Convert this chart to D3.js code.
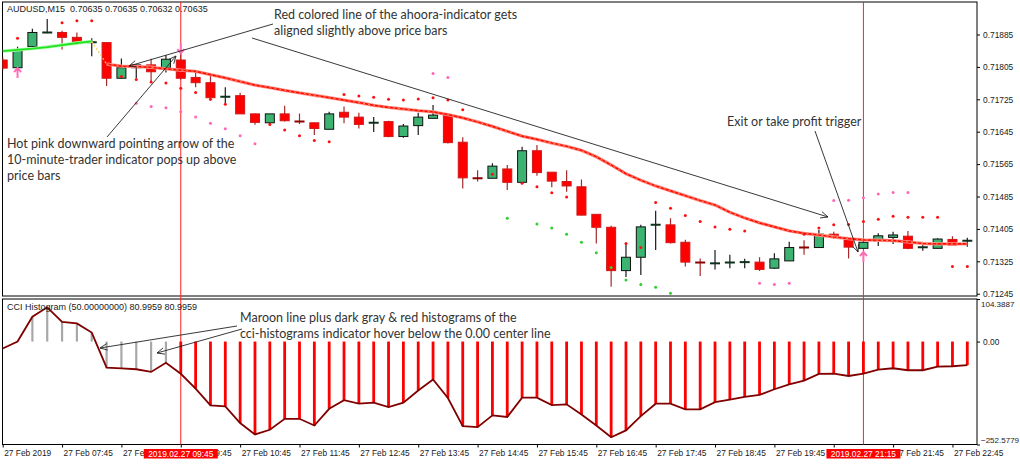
<!DOCTYPE html>
<html>
<head>
<meta charset="utf-8">
<script src="https://cdn.jsdelivr.net/npm/d3@7"></script>
<style>
  body { margin: 0; background: #fff; }
  svg { display: block; }
  .axis text { font-family: "Liberation Sans", Arial, sans-serif; font-size: 8.4px; fill: #1a1a1a; }
  .note { font-family: Lato, "Open Sans", sans-serif; font-size: 12.5px; fill: #333; }
</style>
</head>
<body>
<svg id="chart" width="1020" height="464"></svg>
<script>
// AUDUSD M15, 27 Feb 2019 06:45 .. 23:00 (one entry per bar)
const opens = [0.71822, 0.71803, 0.71855, 0.71889, 0.71890, 0.71878, 0.71866, 0.71865, 0.71777, 0.71803,
  0.71810, 0.71803, 0.71822, 0.71779, 0.71766, 0.71731, 0.71734, 0.71689, 0.71667, 0.71689,
  0.71671, 0.71667, 0.71651, 0.71693, 0.71681, 0.71667, 0.71670, 0.71633, 0.71660, 0.71678,
  0.71686, 0.71619, 0.71531, 0.71530, 0.71553, 0.71520, 0.71598, 0.71545, 0.71522, 0.71509,
  0.71441, 0.71409, 0.71302, 0.71335, 0.71414, 0.71415, 0.71372, 0.71323, 0.71320, 0.71322,
  0.71323, 0.71323, 0.71308, 0.71326, 0.71360, 0.71359, 0.71392, 0.71382, 0.71357, 0.71375,
  0.71384, 0.71387, 0.71360, 0.71357, 0.71379, 0.71376];
const highs = [0.71829, 0.71855, 0.71899, 0.71923, 0.71894, 0.71890, 0.71876, 0.71866, 0.71826, 0.71811,
  0.71825, 0.71834, 0.71847, 0.71791, 0.71783, 0.71755, 0.71741, 0.71690, 0.71689, 0.71709,
  0.71690, 0.71667, 0.71694, 0.71707, 0.71692, 0.71681, 0.71672, 0.71664, 0.71692, 0.71711,
  0.71686, 0.71631, 0.71550, 0.71567, 0.71563, 0.71608, 0.71612, 0.71545, 0.71550, 0.71527,
  0.71441, 0.71413, 0.71368, 0.71415, 0.71450, 0.71431, 0.71378, 0.71332, 0.71353, 0.71341,
  0.71331, 0.71335, 0.71345, 0.71373, 0.71377, 0.71402, 0.71398, 0.71382, 0.71377, 0.71394,
  0.71398, 0.71400, 0.71365, 0.71382, 0.71387, 0.71383];
const lows = [0.71797, 0.71801, 0.71853, 0.71888, 0.71848, 0.71859, 0.71831, 0.71758, 0.71776, 0.71777,
  0.71768, 0.71791, 0.71773, 0.71755, 0.71722, 0.71715, 0.71689, 0.71662, 0.71663, 0.71670,
  0.71664, 0.71637, 0.71651, 0.71666, 0.71653, 0.71644, 0.71631, 0.71630, 0.71637, 0.71678,
  0.71616, 0.71505, 0.71522, 0.71530, 0.71501, 0.71520, 0.71536, 0.71508, 0.71497, 0.71439,
  0.71369, 0.71262, 0.71286, 0.71291, 0.71353, 0.71369, 0.71312, 0.71289, 0.71305, 0.71308,
  0.71308, 0.71301, 0.71306, 0.71326, 0.71341, 0.71359, 0.71380, 0.71332, 0.71357, 0.71363,
  0.71368, 0.71355, 0.71351, 0.71357, 0.71365, 0.71361];
const closes = [0.71802, 0.71847, 0.71890, 0.71890, 0.71878, 0.71867, 0.71866, 0.71777, 0.71803, 0.71810,
  0.71793, 0.71824, 0.71777, 0.71766, 0.71729, 0.71731, 0.71689, 0.71668, 0.71689, 0.71672,
  0.71670, 0.71653, 0.71689, 0.71681, 0.71663, 0.71667, 0.71633, 0.71659, 0.71681, 0.71686,
  0.71618, 0.71531, 0.71530, 0.71560, 0.71520, 0.71598, 0.71544, 0.71523, 0.71511, 0.71439,
  0.71409, 0.71302, 0.71335, 0.71410, 0.71415, 0.71371, 0.71323, 0.71322, 0.71320, 0.71322,
  0.71323, 0.71305, 0.71331, 0.71359, 0.71359, 0.71392, 0.71384, 0.71360, 0.71372, 0.71388,
  0.71390, 0.71357, 0.71360, 0.71380, 0.71365, 0.71376];

// ahoora line: green while rising, red while falling
const maGreen = [0.71844, 0.71847, 0.71850, 0.71854, 0.71859, 0.71864, 0.71868];
const maRed = [null, null, null, null, null, null, null, 0.71812, 0.71807, 0.71806,
  0.71804, 0.71800, 0.71797, 0.71794, 0.71786, 0.71778, 0.71769, 0.71760, 0.71754, 0.71747,
  0.71741, 0.71735, 0.71729, 0.71723, 0.71717, 0.71710, 0.71705, 0.71701, 0.71697, 0.71694,
  0.71687, 0.71679, 0.71669, 0.71658, 0.71646, 0.71634, 0.71626, 0.71617, 0.71609, 0.71599,
  0.71583, 0.71563, 0.71541, 0.71525, 0.71511, 0.71499, 0.71487, 0.71475, 0.71464, 0.71446,
  0.71432, 0.71420, 0.71410, 0.71400, 0.71394, 0.71390, 0.71385, 0.71381, 0.71378, 0.71377,
  0.71376, 0.71373, 0.71369, 0.71368, 0.71368, 0.71368];

// dot indicators as [bar, price]
const redDots = [[1, 0.71876], [4, 0.71914], [5, 0.71919], [6, 0.71919], [8, 0.71781], [9, 0.71774],
  [10, 0.71768], [11, 0.71765], [12, 0.71752], [13, 0.71742], [14, 0.71725], [15, 0.71713],
  [18, 0.71663], [19, 0.71649], [20, 0.71635], [21, 0.71623], [22, 0.71620], [23, 0.71737],
  [24, 0.71733], [25, 0.71730], [26, 0.71725], [27, 0.71723], [28, 0.71726], [29, 0.71729],
  [30, 0.71723], [31, 0.71699], [33, 0.71540], [35, 0.71518], [36, 0.71509], [37, 0.71494],
  [38, 0.71484], [40, 0.71410], [42, 0.71369], [43, 0.71359], [44, 0.71470], [45, 0.71456],
  [46, 0.71438], [47, 0.71423], [48, 0.71410], [49, 0.71404], [50, 0.71400], [54, 0.71392],
  [55, 0.71407], [56, 0.71415], [57, 0.71416], [58, 0.71423], [59, 0.71429], [60, 0.71436],
  [61, 0.71434], [62, 0.71434], [63, 0.71434], [64, 0.71312], [65, 0.71312]];
const pinkDots = [[9, 0.71715], [10, 0.71707], [11, 0.71704], [12, 0.71694], [13, 0.71681],
  [14, 0.71666], [15, 0.71652], [16, 0.71635], [17, 0.71615], [29, 0.71789], [30, 0.71779],
  [51, 0.71271], [52, 0.71268], [53, 0.71271], [56, 0.71475], [57, 0.71476], [58, 0.71482],
  [59, 0.71491], [60, 0.71495], [61, 0.71495]];
const greenDots = [[34, 0.71431], [36, 0.71417], [37, 0.71407], [38, 0.71392], [39, 0.71372],
  [40, 0.71346], [41, 0.71310], [42, 0.71279], [43, 0.71268], [44, 0.71261], [45, 0.71246]];

// 10-minute-trader arrows as [bar, price of the tip]
const arrowsUp = [[1, 0.71802], [58, 0.71348]];
const arrowsDown = [[12, 0.71839]];

// CCI(50)
const cciValues = [-17, 0, 61, 84, 48.5, 44.5, 22, -64, -66, -68,
  -74.5, -52, -79, -115.6, -156.7, -159, -200, -228, -216.5, -189.5,
  -189.5, -206, -165, -144, -152.5, -150, -161, -150, -120, -93,
  -138.6, -207.6, -210, -181, -185, -137.7, -137.7, -156, -154, -179,
  -206, -234.7, -218, -183, -152.5, -152.5, -166.5, -166.5, -148.5, -142.6,
  -136, -131, -117, -105, -96, -79.5, -78.6, -84.5, -78.6, -68.7,
  -65.5, -70.4, -70.4, -61.3, -60.6, -58];
const cciHistColor = d3.range(66).map((i) => (i < 2 ? null : i < 12 ? 'gray' : 'red'));
const cciMax = 104.3887;
const cciMin = -252.5779;

const priceTicks = [0.71245, 0.71325, 0.71405, 0.71485, 0.71565, 0.71645, 0.71725, 0.71805, 0.71885];
const xTickIndex = [0, 4, 8, 12, 16, 20, 24, 28, 32, 36, 40, 44, 48, 52, 56, 60, 64];
const xTickLabels = ['27 Feb 2019', '27 Feb 07:45', '27 Feb 08:45', '27 Feb 09:45', '27 Feb 10:45',
  '27 Feb 11:45', '27 Feb 12:45', '27 Feb 13:45', '27 Feb 14:45', '27 Feb 15:45', '27 Feb 16:45',
  '27 Feb 17:45', '27 Feb 18:45', '27 Feb 19:45', '27 Feb 20:45', '27 Feb 21:45', '27 Feb 22:45'];
const markerIndex = [12, 58];
const markerLabels = ['2019.02.27 09:45', '2019.02.27 21:15'];

const svg = d3.select('#chart');
const plotLeft = 2.5, plotRight = 977, plotTop = 2, mainBottom = 296, subTop = 299, subBottom = 444.5;

const x = d3.scaleLinear().domain([0, 65]).range([2.7, 967.3]);
const y = d3.scaleLinear().domain([0.71245, 0.71885]).range([293.7, 34.5]);
const yc = d3.scaleLinear().domain([cciMin, cciMax]).range([subBottom, subTop]);

svg.append('defs').append('clipPath').attr('id', 'mainClip')
  .append('rect').attr('x', plotLeft).attr('y', plotTop)
  .attr('width', plotRight - plotLeft).attr('height', mainBottom - plotTop);

// frames
svg.append('rect').attr('x', plotLeft).attr('y', plotTop)
  .attr('width', plotRight - plotLeft).attr('height', mainBottom - plotTop)
  .attr('fill', 'none').attr('stroke', '#000');
svg.append('rect').attr('x', plotLeft).attr('y', subTop)
  .attr('width', plotRight - plotLeft).attr('height', subBottom - subTop)
  .attr('fill', 'none').attr('stroke', '#000');

// vertical event lines
svg.selectAll('line.marker')
  .data(markerIndex)
  .enter()
  .append('line')
  .attr('class', 'marker')
  .attr('x1', (d) => x(d)).attr('x2', (d) => x(d))
  .attr('y1', plotTop).attr('y2', subBottom)
  .attr('stroke', '#ff2020').attr('stroke-width', 1);

const main = svg.append('g').attr('clip-path', 'url(#mainClip)');
const bars = d3.range(opens.length);
const isDoji = (i) => Math.abs(opens[i] - closes[i]) < 0.000015;
const isUp = (i) => closes[i] >= opens[i];

// wicks
main.selectAll('line.wick')
  .data(bars)
  .enter()
  .append('line')
  .attr('class', 'wick')
  .attr('x1', (i) => x(i)).attr('x2', (i) => x(i))
  .attr('y1', (i) => y(highs[i])).attr('y2', (i) => y(lows[i]))
  .attr('stroke', (i) => (isUp(i) ? '#1a1a1a' : '#a52a2a'))
  .attr('stroke-width', 1.2);

// bodies
main.selectAll('rect.body')
  .data(bars.filter((i) => !isDoji(i)))
  .enter()
  .append('rect')
  .attr('class', 'body')
  .attr('x', (i) => x(i) - 4.5)
  .attr('y', (i) => y(Math.max(opens[i], closes[i])))
  .attr('width', 9)
  .attr('height', (i) => Math.max(1.5, y(Math.min(opens[i], closes[i])) - y(Math.max(opens[i], closes[i]))))
  .attr('fill', (i) => (isUp(i) ? '#3cb371' : '#ff0000'))
  .attr('stroke', (i) => (isUp(i) ? '#111' : '#d01818'))
  .attr('stroke-width', 1);

// doji crosses
main.selectAll('line.doji')
  .data(bars.filter(isDoji))
  .enter()
  .append('line')
  .attr('class', 'doji')
  .attr('x1', (i) => x(i) - 5).attr('x2', (i) => x(i) + 5)
  .attr('y1', (i) => y(closes[i])).attr('y2', (i) => y(closes[i]))
  .attr('stroke', (i) => (isUp(i) ? '#10301f' : '#8b0000'))
  .attr('stroke-width', 2);

// ahoora line
const maLine = (arr) => d3.line()
  .defined((d) => d != null)
  .x((d, i) => x(i))
  .y((d) => y(d))(arr);

main.append('path').attr('d', maLine(maGreen))
  .attr('fill', 'none').attr('stroke', '#a8ffa8').attr('stroke-width', 3.4);
main.append('path').attr('d', maLine(maGreen))
  .attr('fill', 'none').attr('stroke', '#22e022').attr('stroke-width', 1.8);
main.append('line')
  .attr('x1', x(6)).attr('y1', y(maGreen[6]))
  .attr('x2', x(7)).attr('y2', y(maRed[7]))
  .attr('stroke', '#f0d060').attr('stroke-width', 1.2).attr('stroke-dasharray', '2,2');
main.append('path').attr('d', maLine(maRed))
  .attr('fill', 'none').attr('stroke', '#ff9a90').attr('stroke-width', 3.4);
main.append('path').attr('d', maLine(maRed))
  .attr('fill', 'none').attr('stroke', '#ff0a0a').attr('stroke-width', 1.7);
main.append('path').attr('d', maLine(maRed))
  .attr('fill', 'none').attr('stroke', '#ffd27a').attr('stroke-width', 0.7).attr('stroke-dasharray', '2,3');

// dot indicators
const dots = (data, color) => main.append('g')
  .selectAll('circle')
  .data(data)
  .enter()
  .append('circle')
  .attr('cx', (d) => x(d[0]))
  .attr('cy', (d) => y(d[1]))
  .attr('r', 1.5)
  .attr('fill', color);
dots(redDots, '#ff1010');
dots(pinkDots, '#ff66b3');
dots(greenDots, '#33cc33');

// pink arrows, dir 1 = tip at top, -1 = tip at bottom
const arrowPath = (px, py, dir) => `M${px},${py} L${px},${py + 10 * dir} `
  + `M${px - 3.5},${py + 4 * dir} L${px},${py} L${px + 3.5},${py + 4 * dir}`;
main.selectAll('path.up')
  .data(arrowsUp)
  .enter()
  .append('path')
  .attr('d', (d) => arrowPath(x(d[0]), y(d[1]), 1))
  .attr('fill', 'none').attr('stroke', '#ff6eb4').attr('stroke-width', 2);
main.selectAll('path.down')
  .data(arrowsDown)
  .enter()
  .append('path')
  .attr('d', (d) => arrowPath(x(d[0]), y(d[1]), -1))
  .attr('fill', 'none').attr('stroke', '#ff6eb4').attr('stroke-width', 2);

// CCI histogram
svg.selectAll('line.hist')
  .data(bars.filter((i) => cciHistColor[i]))
  .enter()
  .append('line')
  .attr('class', 'hist')
  .attr('x1', (i) => x(i)).attr('x2', (i) => x(i))
  .attr('y1', yc(0)).attr('y2', (i) => yc(cciValues[i]))
  .attr('stroke', (i) => (cciHistColor[i] === 'red' ? '#ff0000' : '#a8a8a8'))
  .attr('stroke-width', (i) => (cciHistColor[i] === 'red' ? 2.8 : 2.2));

svg.append('path')
  .attr('d', d3.line().x((d, i) => x(i)).y((d) => yc(d))(cciValues))
  .attr('fill', 'none').attr('stroke', '#800000').attr('stroke-width', 1.8);

// price axis
const yAxis = svg.append('g')
  .attr('class', 'axis')
  .attr('transform', `translate(${plotRight},0)`)
  .call(d3.axisRight(y).tickValues(priceTicks).tickSize(3).tickPadding(3).tickFormat(d3.format('.5f')));
yAxis.select('.domain').remove();

// CCI axis
const cAxis = svg.append('g')
  .attr('class', 'axis')
  .attr('transform', `translate(${plotRight},0)`)
  .call(d3.axisRight(yc).tickValues([cciMax, 0, cciMin]).tickSize(3).tickPadding(1.5)
    .tickFormat((d) => (d === 0 ? '0.00' : d3.format('.4f')(d))));
cAxis.select('.domain').remove();
cAxis.selectAll('.tick text')
  .style('font-size', (d) => (d === 0 ? null : '8px'))
  .attr('x', (d) => (d === 0 ? 6 : 4))
  .attr('dy', (d) => (d === cciMax ? '0.95em' : d === cciMin ? '-0.3em' : '0.32em'));

// time axis
const xAxis = svg.append('g')
  .attr('class', 'axis')
  .attr('transform', `translate(0,${subBottom})`)
  .call(d3.axisBottom(x).tickValues(xTickIndex).tickSize(3).tickPadding(3)
    .tickFormat((d, i) => xTickLabels[i]));
xAxis.select('.domain').remove();
xAxis.selectAll('.tick text').attr('text-anchor', 'start').attr('x', 1);
svg.selectAll('.axis .tick line').attr('stroke', '#000');

// highlighted marker times
const mk = svg.selectAll('g.mk')
  .data(markerIndex)
  .enter()
  .append('g')
  .attr('class', 'mk axis')
  .attr('transform', (d) => `translate(${x(d)},${subBottom})`);
mk.append('rect').attr('x', -37).attr('y', 4.5).attr('width', 74).attr('height', 9.5).attr('fill', '#ff0000');
mk.append('text').attr('y', 12.3).attr('text-anchor', 'middle').style('fill', '#fff')
  .text((d, i) => markerLabels[i]);

// headers
svg.append('text').attr('class', 'axis').attr('x', 7).attr('y', 12)
  .style('white-space', 'pre').style('font-family', '"Liberation Sans", Arial, sans-serif')
  .style('font-size', '9px').style('fill', '#1a1a1a')
  .text('AUDUSD,M15  0.70635 0.70635 0.70632 0.70635');
svg.append('text').attr('class', 'axis').attr('x', 7).attr('y', 310)
  .style('font-family', '"Liberation Sans", Arial, sans-serif')
  .style('font-size', '9px').style('fill', '#1a1a1a')
  .text('CCI Histogram (50.00000000) 80.9959 80.9959');

// annotations
const notes = [
  { lines: ['Red colored line of the ahoora-indicator gets', 'aligned slightly above price bars'], x: 274, y: 19 },
  { lines: ['Hot pink downward pointing arrow of the', '10-minute-trader indicator pops up above', 'price bars'], x: 7, y: 147.5 },
  { lines: ['Exit or take profit trigger'], x: 727, y: 126 },
  { lines: ['Maroon line plus dark gray & red histograms of the', 'cci-histograms indicator hover below the 0.00 center line'], x: 240, y: 322 },
];
notes.forEach((n) => {
  const t = svg.append('text').attr('class', 'note').attr('x', n.x).attr('y', n.y);
  n.lines.forEach((l, i) => t.append('tspan').attr('x', n.x).attr('dy', i ? 16 : 0).text(l));
});

const pointers = [
  [273, 24, 129, 66],
  [252, 38, 828, 217],
  [107, 137, 176, 56],
  [815, 131, 858, 252],
  [237, 326, 100, 348],
  [242, 329, 157, 353],
];
pointers.forEach(([x1, y1, x2, y2]) => {
  const a = Math.atan2(y2 - y1, x2 - x1);
  const h = 8, w = 0.42;
  const p1 = [x2 - h * Math.cos(a - w), y2 - h * Math.sin(a - w)];
  const p2 = [x2 - h * Math.cos(a + w), y2 - h * Math.sin(a + w)];
  svg.append('path')
    .attr('d', `M${x1},${y1} L${x2},${y2} M${p1[0]},${p1[1]} L${x2},${y2} L${p2[0]},${p2[1]}`)
    .attr('fill', 'none').attr('stroke', '#222').attr('stroke-width', 0.9);
});
</script>
</body>
</html>
